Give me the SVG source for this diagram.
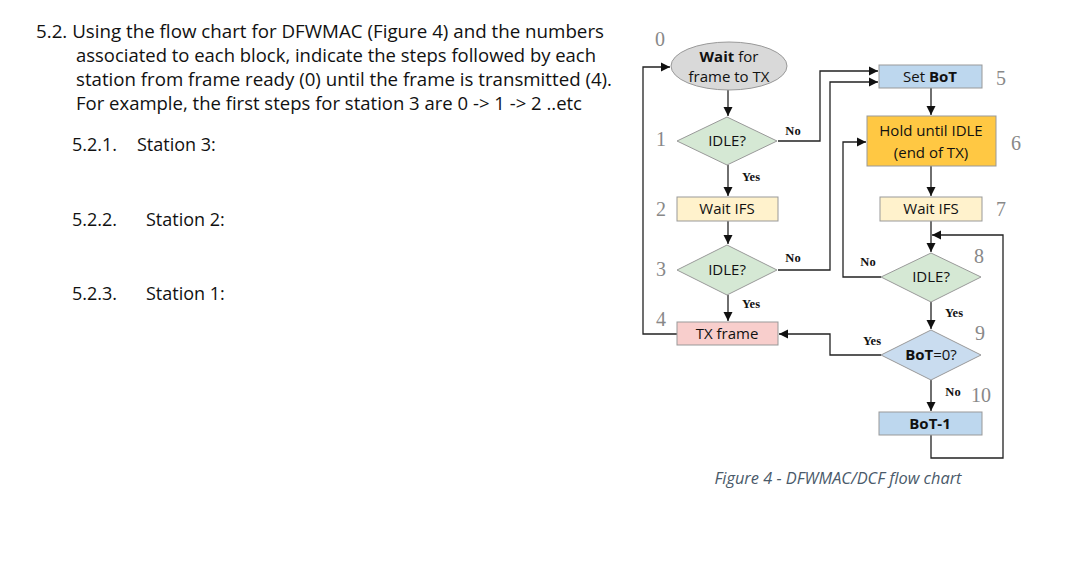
<svg xmlns="http://www.w3.org/2000/svg" width="1080" height="583" viewBox="0 0 1080 583">
<defs>
<marker id="ah" viewBox="0 0 10 10" refX="10" refY="5" markerWidth="7" markerHeight="7" orient="auto"><path d="M0,0 L10,5 L0,10 z" fill="#111"/></marker>
<style>
.q{font-family:"Open Sans","Liberation Sans",sans-serif;font-size:18px;fill:#111}
.n{font-family:"Open Sans","Liberation Sans",sans-serif;font-size:15px;fill:#111;text-anchor:middle}
.num{font-family:"Liberation Serif",serif;font-size:20px;fill:#888;text-anchor:middle}
.yn{font-family:"Liberation Serif",serif;font-size:12.5px;font-weight:bold;fill:#111;text-anchor:middle}
.c{fill:none;stroke:#222;stroke-width:1.3}
.b{stroke:#999;stroke-width:1}
</style>
</defs>
<rect width="1080" height="583" fill="#fff"/>
<g id="question">
<text class="q" x="36" y="38" textLength="568" lengthAdjust="spacingAndGlyphs">5.2.  Using the flow chart for DFWMAC (Figure 4) and the numbers</text>
<text class="q" x="76" y="62" textLength="520" lengthAdjust="spacingAndGlyphs">associated to each block, indicate the steps followed by each</text>
<text class="q" x="76" y="86" textLength="536" lengthAdjust="spacingAndGlyphs">station from frame ready (0) until the frame is transmitted (4).</text>
<text class="q" x="76" y="110" textLength="506" lengthAdjust="spacingAndGlyphs">For example, the first steps for station 3 are 0 -&gt; 1 -&gt; 2 ..etc</text>
<text class="q" x="72" y="151">5.2.1.</text><text class="q" x="137" y="151">Station 3:</text>
<text class="q" x="72" y="226">5.2.2.</text><text class="q" x="146" y="226">Station 2:</text>
<text class="q" x="72" y="300">5.2.3.</text><text class="q" x="146" y="300">Station 1:</text>
</g>
<g id="connectors">
<path class="c" d="M728,90 V116" marker-end="url(#ah)"/>
<path class="c" d="M728,165 V196" marker-end="url(#ah)"/>
<path class="c" d="M728,221 V244" marker-end="url(#ah)"/>
<path class="c" d="M728,295 V321" marker-end="url(#ah)"/>
<path class="c" d="M677,334 H643 V67 H670" marker-end="url(#ah)"/>
<path class="c" d="M778,141 H820 V71 H878" marker-end="url(#ah)"/>
<path class="c" d="M778,270 H830 V82 H878" marker-end="url(#ah)"/>
<path class="c" d="M931,88 V115" marker-end="url(#ah)"/>
<path class="c" d="M931,166 V196" marker-end="url(#ah)"/>
<path class="c" d="M931,221 V252" marker-end="url(#ah)"/>
<path class="c" d="M881,277 H843 V142 H866" marker-end="url(#ah)"/>
<path class="c" d="M931,302 V329" marker-end="url(#ah)"/>
<path class="c" d="M881,355 H830 V334 H779" marker-end="url(#ah)"/>
<path class="c" d="M931,380 V411" marker-end="url(#ah)"/>
<path class="c" d="M931,435 V458 H1003 V235 H932" marker-end="url(#ah)"/>
<text class="yn" x="793" y="135">No</text>
<text class="yn" x="751" y="181">Yes</text>
<text class="yn" x="793" y="262">No</text>
<text class="yn" x="751" y="308">Yes</text>
<text class="yn" x="868" y="266">No</text>
<text class="yn" x="954" y="317">Yes</text>
<text class="yn" x="872" y="345">Yes</text>
<text class="yn" x="953" y="396">No</text>
</g>
<g id="n0"><ellipse class="b" cx="729" cy="66" rx="58" ry="24" fill="#d9d9d9"/><text class="n" x="729" y="62"><tspan font-weight="bold">Wait</tspan> for</text><text class="n" x="729" y="82">frame to TX</text><text class="num" x="660" y="46">0</text></g>
<g id="n1"><polygon class="b" points="677,141 727,117 777,141 727,165" fill="#d5e8d4"/><text class="n" x="727" y="146">IDLE?</text><text class="num" x="661" y="146">1</text></g>
<g id="n2"><rect class="b" x="677" y="197" width="101" height="24" fill="#fff2cc"/><text class="n" x="727" y="214">Wait IFS</text><text class="num" x="661" y="216">2</text></g>
<g id="n3"><polygon class="b" points="677,270 727,245 777,270 727,295" fill="#d5e8d4"/><text class="n" x="727" y="275">IDLE?</text><text class="num" x="661" y="276">3</text></g>
<g id="n4"><rect class="b" x="677" y="322" width="101" height="23" fill="#f8cecc"/><text class="n" x="727" y="339">TX frame</text><text class="num" x="661" y="326">4</text></g>
<g id="n5"><rect class="b" x="879" y="65" width="103" height="23" fill="#bdd7ee"/><text class="n" x="930" y="82">Set <tspan font-weight="bold">BoT</tspan></text><text class="num" x="1001" y="85">5</text></g>
<g id="n6"><rect class="b" x="867" y="116" width="129" height="50" fill="#ffc843"/><text class="n" x="931" y="136">Hold until IDLE</text><text class="n" x="931" y="158">(end of TX)</text><text class="num" x="1016" y="150">6</text></g>
<g id="n7"><rect class="b" x="880" y="197" width="102" height="24" fill="#fff2cc"/><text class="n" x="931" y="214">Wait IFS</text><text class="num" x="1001" y="216">7</text></g>
<g id="n8"><polygon class="b" points="881,277 931,253 981,277 931,302" fill="#d5e8d4"/><text class="n" x="931" y="282">IDLE?</text><text class="num" x="979" y="263">8</text></g>
<g id="n9"><polygon class="b" points="881,355 931,330 981,355 931,380" fill="#c9dcef"/><text class="n" x="931" y="360"><tspan font-weight="bold">BoT</tspan>=0?</text><text class="num" x="980" y="340">9</text></g>
<g id="n10"><rect class="b" x="879" y="412" width="103" height="23" fill="#bdd7ee"/><text class="n" x="930" y="429" font-weight="bold">BoT-1</text><text class="num" x="981" y="402">10</text></g>
<text x="838" y="484" font-family="Open Sans, Liberation Sans, sans-serif" font-size="16" font-style="italic" fill="#4a5a6a" text-anchor="middle" textLength="247" lengthAdjust="spacingAndGlyphs">Figure 4 - DFWMAC/DCF flow chart</text>
</svg>
